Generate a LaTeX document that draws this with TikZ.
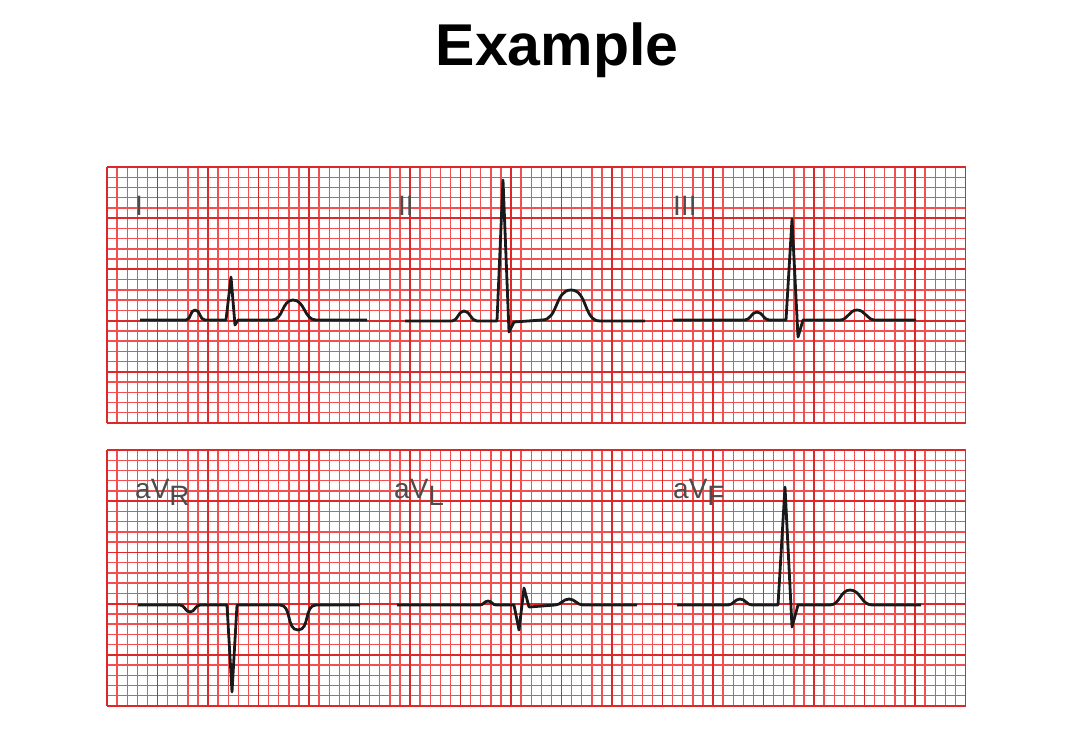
\documentclass[tikz,border=0pt]{standalone}
\usepackage{fontspec}
\setmainfont{Liberation Sans}
\definecolor{gridred}{RGB}{240,80,80}
\definecolor{gridmaj}{RGB}{220,40,40}
\begin{document}
\begin{tikzpicture}[x=1pt,y=-1pt,
  minor/.style={draw=gridred,line width=1.4pt},
  major/.style={draw=gridmaj,line width=1.8pt},
  trace/.style={line width=2.8pt,line join=round,draw=black!90},
  lead/.style={font=\fontsize{28}{28}\selectfont,text=black!70,anchor=west,inner sep=0pt},
  bump/.style={out=0,in=180}]
\useasboundingbox (0,0) rectangle (1073,735);
\node[font=\bfseries\fontsize{59}{59}\selectfont] (title) at (557,50) {Example};
\foreach \ptop in {167,450}{
  \foreach \i in {0,...,85}
    \draw[minor] ({107+\i*10.1},\ptop) -- ++(0,256);
  \foreach \j in {0,...,25}
    \draw[minor] (107,{\ptop+\j*10.24}) -- ++(859,0);
  \foreach \i in {0,5,...,85}
    \draw[major] ({107+\i*10.1},\ptop) -- ++(0,256);
  \foreach \j in {0,5,...,25}
    \draw[major] (107,{\ptop+\j*10.24}) -- ++(859,0);
}
\node[lead] (l1) at (135,206) {I};
\node[lead] (l2) at (398,206) {II};
\node[lead] (l3) at (673,206) {III};
\node[lead] (l4) at (135,492) {aV\raisebox{-7pt}{R}};
\node[lead] (l5) at (394,492) {aV\raisebox{-7pt}{L}};
\node[lead] (l6) at (673,492) {aV\raisebox{-7pt}{F}};
% I
\draw[trace] (140,320) -- (186,320) to[bump] (195,310) to[bump] (205,320) -- (226,320) -- (231,277) -- (235,325) -- (238,320) -- (272,320) to[bump] (293,300) to[bump] (316,320) -- (367,320);
% II
\draw[trace] (405,321) -- (452,321) to[bump] (464,311) to[bump] (477,321) -- (497,321) -- (503,180) -- (509,332) -- (514,322) -- (542,320) to[bump] (571,290) to[bump] (600,321) -- (645,321);
% III
\draw[trace] (673,320) -- (745,320) to[bump] (757,312) to[bump] (769,320) -- (786,320) -- (792,219) -- (798,337) -- (803,320) -- (840,320) to[bump] (857,310) to[bump] (875,320) -- (916,320);
% aVR
\draw[trace] (138,605) -- (180,605) to[bump] (190,612) to[bump] (200,605) -- (227,605) -- (232,692) -- (237,605) -- (280,605) to[bump] (298,630) to[bump] (316,605) -- (360,605);
% aVL
\draw[trace] (397,605) -- (480,605) to[bump] (488,601) to[bump] (496,605) -- (514,605) -- (519,630) -- (524,588) -- (529,607) -- (555,605) to[bump] (569,599) to[bump] (583,605) -- (637,605);
% aVF
\draw[trace] (677,605) -- (728,605) to[bump] (740,599) to[bump] (752,605) -- (778,605) -- (785,487) -- (792,627) -- (798,605) -- (830,605) to[bump] (850,590) to[bump] (872,605) -- (921,605);
\end{tikzpicture}
\end{document}
